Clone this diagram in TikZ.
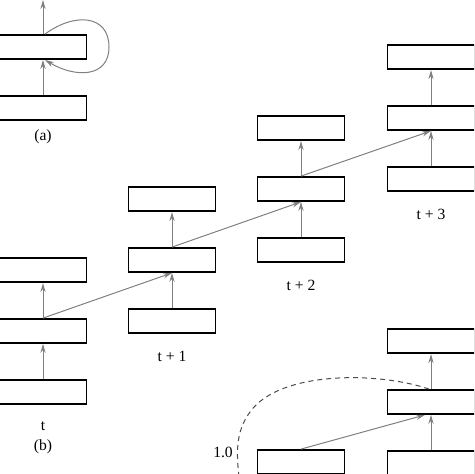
\documentclass[tikz,border=0pt]{standalone}
\usepackage{fontspec}
\setmainfont{Liberation Serif}
\usetikzlibrary{positioning,arrows.meta}

\begin{document}
\begin{tikzpicture}[x=0.5pt,y=-0.5pt,
        node distance=17.5pt,
        unit/.style={draw, line width=0.9pt, minimum width=43.5pt, minimum height=12pt, inner sep=0pt},
        link/.style={draw=gray, line width=0.5pt, -{Stealth[length=4.5pt,width=2.6pt]}},
        recur/.style={draw=black!70, line width=0.5pt, dash pattern=on 2.5pt off 2pt},
        lbl/.style={font=\fontsize{7.8}{9}\selectfont}]
    \clip (0,0) rectangle (474,474);

    % (a) recurrent unit
    \node[unit] (ahid) at (43,47) {};
    \node[unit, below=of ahid] (ain) {};
    \coordinate (aout) at (43,0);
    \draw[link] (ain) -- (ahid);
    \draw[link] (ahid) -- (aout);
    \draw[link] ([xshift=1pt]ahid.north) .. controls (75,12) and (109,15) .. (109,47)
        .. controls (109,78) and (75,78) .. ([xshift=1pt]ahid.south);
    \node[lbl] (alab) at (43,137) {(a)};

    % (b) unfolded in time
    \foreach \i/\x/\y/\txt in {0/43/331/t, 1/172/260/t + 1, 2/301/189/t + 2, 3/431/118/t + 3}{
        \node[unit] (hid\i) at (\x,\y) {};
        \node[unit, above=of hid\i] (out\i) {};
        \node[unit, below=of hid\i] (in\i) {};
        \node[lbl, below=5pt of in\i] (time\i) {\txt};
        \draw[link] (in\i) -- (hid\i);
        \draw[link] (hid\i) -- (out\i);
    }
    \foreach \i/\j in {0/1, 1/2, 2/3}
        \draw[link] (hid\i.north) -- (hid\j.south);
    \node[lbl] (blab) at (43,447) {(b)};

    % bottom right
    \node[unit] (rhid) at (431,402) {};
    \node[unit, above=of rhid] (rout) {};
    \node[unit, below=of rhid] (rin) {};
    \node[unit] (rprev) at (301,462) {};
    \coordinate (rend) at (240,485);
    \draw[link] (rin) -- (rhid);
    \draw[link] (rhid) -- (rout);
    \draw[link] (rprev.north) -- ([xshift=-3pt]rhid.south);
    \draw[recur] ([xshift=-1pt]rhid.north) .. controls (380,372) and (280,370) .. (250,412)
        .. controls (235,432) and (236,455) .. (rend);
    \node[lbl] (wlab) at (223,452) {1.0};
\end{tikzpicture}
\end{document}
